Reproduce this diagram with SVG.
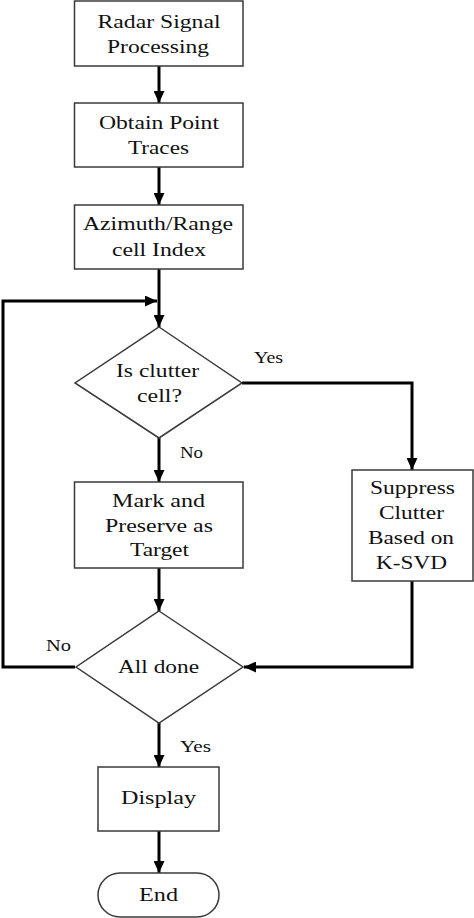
<svg xmlns="http://www.w3.org/2000/svg" width="474" height="918" viewBox="0 0 474 918">
<style>
.box{fill:#fff;stroke:#3a3a3a;stroke-width:1.5}
.t{font-family:"Liberation Serif","Times New Roman",serif;font-size:18px;fill:#111;text-anchor:middle}
.l{font-family:"Liberation Serif","Times New Roman",serif;font-size:16px;fill:#111}
.c{fill:none;stroke:#000;stroke-width:3}
</style>
<defs>
<marker id="ah" markerUnits="userSpaceOnUse" markerWidth="12" markerHeight="11" refX="12" refY="5.5" orient="auto">
<path d="M0,0 L12,5.5 L0,11 z" fill="#000"/>
</marker>
</defs>
<rect width="474" height="918" fill="#fff"/>
<g id="connectors">
<line class="c" x1="159" y1="66" x2="159" y2="103" marker-end="url(#ah)"/>
<line class="c" x1="159" y1="167" x2="159" y2="205" marker-end="url(#ah)"/>
<line class="c" x1="159" y1="269" x2="159" y2="327" marker-end="url(#ah)"/>
<polyline class="c" points="75,667 3,667 3,301 157,301" marker-end="url(#ah)"/>
<polyline class="c" points="242,383 412,383 412,470" marker-end="url(#ah)"/>
<line class="c" x1="159" y1="438" x2="159" y2="482" marker-end="url(#ah)"/>
<line class="c" x1="159" y1="568" x2="159" y2="611" marker-end="url(#ah)"/>
<polyline class="c" points="412,581 412,667 244,667" marker-end="url(#ah)"/>
<line class="c" x1="159" y1="723" x2="159" y2="767" marker-end="url(#ah)"/>
<line class="c" x1="159" y1="831" x2="159" y2="873" marker-end="url(#ah)"/>
</g>
<g id="n1">
<rect class="box" x="74.5" y="1" width="168.5" height="65"/>
<text class="t" x="159" y="28" textLength="123" lengthAdjust="spacingAndGlyphs">Radar Signal</text>
<text class="t" x="158" y="53" textLength="102" lengthAdjust="spacingAndGlyphs">Processing</text>
</g>
<g id="n2">
<rect class="box" x="74.5" y="103" width="168.5" height="64"/>
<text class="t" x="159" y="129" textLength="120" lengthAdjust="spacingAndGlyphs">Obtain Point</text>
<text class="t" x="158.5" y="154" textLength="61" lengthAdjust="spacingAndGlyphs">Traces</text>
</g>
<g id="n3">
<rect class="box" x="74.5" y="205" width="168.5" height="64"/>
<text class="t" x="158" y="230" textLength="150" lengthAdjust="spacingAndGlyphs">Azimuth/Range</text>
<text class="t" x="159" y="256" textLength="94" lengthAdjust="spacingAndGlyphs">cell Index</text>
</g>
<g id="d1">
<polygon class="box" points="159,327 242,383 159,438 75,383"/>
<text class="t" x="157.5" y="377" textLength="83" lengthAdjust="spacingAndGlyphs">Is clutter</text>
<text class="t" x="159.5" y="402" textLength="45" lengthAdjust="spacingAndGlyphs">cell?</text>
</g>
<g id="n4">
<rect class="box" x="74.5" y="482" width="168.5" height="86"/>
<text class="t" x="158.5" y="507" textLength="93" lengthAdjust="spacingAndGlyphs">Mark and</text>
<text class="t" x="159" y="532" textLength="108" lengthAdjust="spacingAndGlyphs">Preserve as</text>
<text class="t" x="159.5" y="556" textLength="59" lengthAdjust="spacingAndGlyphs">Target</text>
</g>
<g id="n5">
<rect class="box" x="352" y="470" width="121" height="111"/>
<text class="t" x="412.5" y="494" textLength="85" lengthAdjust="spacingAndGlyphs">Suppress</text>
<text class="t" x="411.5" y="519" textLength="65" lengthAdjust="spacingAndGlyphs">Clutter</text>
<text class="t" x="411" y="544" textLength="86" lengthAdjust="spacingAndGlyphs">Based on</text>
<text class="t" x="411.5" y="569" textLength="71" lengthAdjust="spacingAndGlyphs">K-SVD</text>
</g>
<g id="d2">
<polygon class="box" points="159,611 243,667 159,723 76,667"/>
<text class="t" x="158.5" y="673" textLength="81" lengthAdjust="spacingAndGlyphs">All done</text>
</g>
<g id="n6">
<rect class="box" x="98" y="767" width="121" height="64"/>
<text class="t" x="158.5" y="804" textLength="75" lengthAdjust="spacingAndGlyphs">Display</text>
</g>
<g id="n7">
<rect class="box" x="98" y="873" width="121" height="44" rx="22" ry="22"/>
<text class="t" x="158.5" y="901" textLength="39" lengthAdjust="spacingAndGlyphs">End</text>
</g>
<g id="labels">
<text class="l" x="254" y="363" textLength="29" lengthAdjust="spacingAndGlyphs">Yes</text>
<text class="l" x="180" y="458" textLength="23" lengthAdjust="spacingAndGlyphs">No</text>
<text class="l" x="46" y="651" textLength="25" lengthAdjust="spacingAndGlyphs">No</text>
<text class="l" x="180" y="752" textLength="31" lengthAdjust="spacingAndGlyphs">Yes</text>
</g>
</svg>
